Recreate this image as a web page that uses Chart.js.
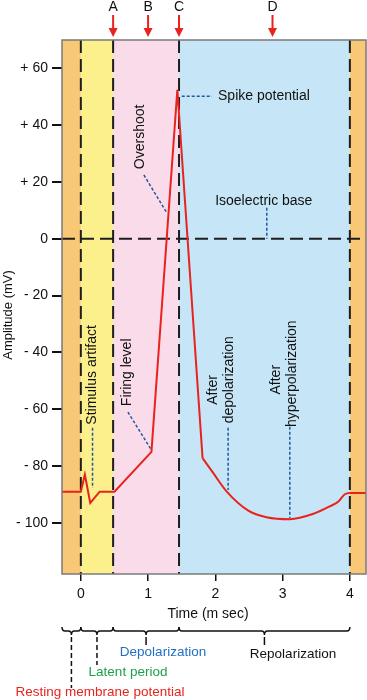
<!DOCTYPE html>
<html>
<head>
<meta charset="utf-8">
<script src="https://cdn.jsdelivr.net/npm/chart.js@4/dist/chart.umd.min.js"></script>
<style>
  html, body { margin: 0; padding: 0; background: #fff; }
  #wrap { width: 367px; height: 700px; }
</style>
</head>
<body>
<div id="wrap"><canvas id="apChart" width="367" height="700"></canvas></div>
<script>
// ---- chart values ----
const timeTicks = [0, 1, 2, 3, 4];
const ampTicks = [60, 40, 20, 0, -20, -40, -60, -80, -100];
const ampTickLabels = ['+ 60', '+ 40', '+ 20', '0', '- 20', '- 40', '- 60', '- 80', '- 100'];
const phaseEdges = [-0.28, 0, 0.48, 1.46, 4.0, 4.24];
const phaseDividers = [0, 0.48, 1.46, 4.0];
const markerLetters = ['A', 'B', 'C', 'D'];
const markerTimes = [0.48, 1.0, 1.46, 2.85];
// straight part: rest, stimulus artifact, latent, firing, spike
const spikeTime = [-0.28, 0, 0.06, 0.14, 0.28, 0.5, 1.05, 1.435, 1.81];
const spikeAmp = [-89, -89, -83, -93, -89, -89, -75, 52.5, -77.2];
// smooth part: after-potentials
const recoveryTime = [1.81, 1.97, 2.17, 2.49, 2.76, 3.11, 3.46, 3.70, 3.83, 3.92, 4.0, 4.24];
const recoveryAmp = [-77.2, -82.5, -89, -95.7, -98, -98.7, -96.8, -94.2, -92.5, -90, -89.5, -89.5];
const periodNames = ['Resting membrane potential', 'Latent period', 'Depolarization', 'Repolarization'];

// ---- styles ----
const FONT = '"Liberation Sans", Arial, sans-serif';
const phaseFills = ['#f9c877', '#fbf08c', '#fadbe9', '#c6e6f8', '#f9c877'];
const inkRed = '#e8231e';
const leaderBlue = '#24579f';
const periodColors = ['#e8231e', '#1ea04c', '#1f6fc4', '#111'];

const toPoints = (xs, ys) => xs.map((t, i) => ({x: t, y: ys[i]}));

const seg = (ctx, x1, y1, x2, y2) => {
  ctx.beginPath();
  ctx.moveTo(x1, y1);
  ctx.lineTo(x2, y2);
  ctx.stroke();
};

const vText = (ctx, str, cx, cy) => {
  ctx.save();
  ctx.translate(cx, cy);
  ctx.rotate(-Math.PI / 2);
  ctx.textAlign = 'center';
  ctx.textBaseline = 'middle';
  ctx.fillText(str, 0, 0);
  ctx.restore();
};

const brace = (ctx, x1, x2, y) => {
  const m = (x1 + x2) / 2, r = 3;
  ctx.beginPath();
  ctx.moveTo(x1, y - 4);
  ctx.quadraticCurveTo(x1, y, x1 + r, y);
  ctx.lineTo(m - r, y);
  ctx.quadraticCurveTo(m, y, m, y + 4);
  ctx.quadraticCurveTo(m, y, m + r, y);
  ctx.lineTo(x2 - r, y);
  ctx.quadraticCurveTo(x2, y, x2, y - 4);
  ctx.stroke();
};

/**
 * Phase bands, dividers, isoelectric line and leader lines (under the trace)
 */
const backdrop = {
  id: 'backdrop',
  beforeDatasetsDraw(chart) {
    const {ctx, chartArea: a, scales: {x, y}} = chart;
    const X = v => x.getPixelForValue(v);
    const Y = v => y.getPixelForValue(v);
    ctx.save();
    for (let i = 0; i < phaseEdges.length - 1; i++) {
      ctx.fillStyle = phaseFills[i];
      ctx.fillRect(X(phaseEdges[i]), a.top, X(phaseEdges[i + 1]) - X(phaseEdges[i]), a.bottom - a.top);
    }
    ctx.strokeStyle = '#1e1e1e';
    ctx.lineWidth = 2;
    ctx.setLineDash([13, 6]);
    phaseDividers.forEach(t => seg(ctx, X(t), a.top, X(t), a.bottom));
    seg(ctx, a.left, Y(0), a.right, Y(0));

    // blue dashed leaders
    ctx.strokeStyle = leaderBlue;
    ctx.lineWidth = 1.5;
    ctx.setLineDash([3, 2]);
    seg(ctx, X(1.50), Y(50.2), X(1.95), Y(50.2));      // spike potential
    seg(ctx, X(0.937), Y(22.5), X(1.274), Y(9.3));     // overshoot
    seg(ctx, X(2.765), Y(10.9), X(2.765), Y(0));       // isoelectric base
    seg(ctx, X(0.174), Y(-66.5), X(0.174), Y(-87.7));  // stimulus artifact
    seg(ctx, X(0.70), Y(-61), X(1.04), Y(-74));        // firing level
    seg(ctx, X(2.19), Y(-66.5), X(2.19), Y(-88.4));    // after depolarization
    seg(ctx, X(3.107), Y(-66.2), X(3.107), Y(-98.4));  // after hyperpolarization
    ctx.restore();
  },
  afterDatasetsDraw(chart) {
    const {ctx, chartArea: a, scales: {x, y}} = chart;
    const X = v => x.getPixelForValue(v);
    const Y = v => y.getPixelForValue(v);
    ctx.save();

    // frame
    ctx.strokeStyle = '#7a7a7a';
    ctx.lineWidth = 1.5;
    ctx.strokeRect(a.left, a.top, a.right - a.left, a.bottom - a.top);

    // in-plot labels
    ctx.fillStyle = '#111';
    ctx.font = '14px ' + FONT;
    ctx.textBaseline = 'middle';
    ctx.textAlign = 'left';
    ctx.fillText('Spike potential', X(2.04), Y(50.2));
    ctx.textAlign = 'center';
    ctx.fillText('Isoelectric base', X(2.72), Y(13.1));
    vText(ctx, 'Overshoot', X(0.878), Y(35.9));
    vText(ctx, 'Stimulus artifact', X(0.164), Y(-47.9));
    vText(ctx, 'Firing level', X(0.695), Y(-47));
    vText(ctx, 'After', X(1.966), Y(-53.2));
    vText(ctx, 'depolarization', X(2.2), Y(-49.6));
    vText(ctx, 'After', X(2.90), Y(-49.6));
    vText(ctx, 'hyperpolarization', X(3.14), Y(-47.5));

    // A-D markers
    ctx.textBaseline = 'alphabetic';
    markerTimes.forEach((t, i) => {
      const px = X(t);
      ctx.fillStyle = '#111';
      ctx.fillText(markerLetters[i], px, 11);
      ctx.strokeStyle = inkRed;
      ctx.fillStyle = inkRed;
      ctx.lineWidth = 2;
      seg(ctx, px, 15, px, 29);
      ctx.beginPath();
      ctx.moveTo(px - 4.5, 28);
      ctx.lineTo(px + 4.5, 28);
      ctx.lineTo(px, 37);
      ctx.closePath();
      ctx.fill();
    });

    // axis titles
    ctx.fillStyle = '#111';
    ctx.textBaseline = 'middle';
    ctx.fillText('Time (m sec)', 208, 614);
    ctx.font = '13px ' + FONT;
    vText(ctx, 'Amplitude (mV)', 8, 315);

    // period braces
    ctx.strokeStyle = '#111';
    ctx.lineWidth = 1.5;
    for (let i = 0; i < periodNames.length; i++) {
      brace(ctx, X(phaseEdges[i]), X(phaseEdges[i + 1]), 631);
    }
    const mids = periodNames.map((_, i) => (X(phaseEdges[i]) + X(phaseEdges[i + 1])) / 2);
    ctx.setLineDash([5, 3]);
    seg(ctx, mids[0], 637, mids[0], 688);
    seg(ctx, mids[1], 637, mids[1], 665);
    ctx.setLineDash([]);
    seg(ctx, mids[2], 637, mids[2], 645);
    seg(ctx, mids[3], 637, mids[3], 645);

    const labelSpots = [[100, 692], [128, 672], [163, 652], [293, 654]];
    ctx.font = '13.5px ' + FONT;
    periodNames.forEach((name, i) => {
      ctx.fillStyle = periodColors[i];
      ctx.fillText(name, labelSpots[i][0], labelSpots[i][1]);
    });
    ctx.restore();
  }
};

new Chart(document.getElementById('apChart'), {
  type: 'line',
  data: {
    datasets: [{
      data: toPoints(spikeTime, spikeAmp),
      borderColor: inkRed,
      borderWidth: 2,
      pointRadius: 0,
      tension: 0,
    }, {
      data: toPoints(recoveryTime, recoveryAmp),
      borderColor: inkRed,
      borderWidth: 2,
      pointRadius: 0,
      cubicInterpolationMode: 'monotone',
    }],
  },
  options: {
    responsive: false,
    animation: false,
    layout: {padding: {top: 40, right: 1, left: 0, bottom: 0}},
    plugins: {legend: {display: false}, tooltip: {enabled: false}},
    scales: {
      x: {
        type: 'linear',
        min: phaseEdges[0],
        max: phaseEdges[phaseEdges.length - 1],
        afterBuildTicks: scale => { scale.ticks = timeTicks.map(v => ({value: v})); },
        afterFit: scale => { scale.height = 126; },
        border: {display: false},
        grid: {drawOnChartArea: false, tickLength: 7, color: '#111', lineWidth: 1.5},
        ticks: {
          autoSkip: false, maxRotation: 0, padding: 5,
          color: '#111', font: {family: FONT, size: 14},
        },
      },
      y: {
        min: -118,
        max: 70,
        afterBuildTicks: scale => { scale.ticks = ampTicks.map(v => ({value: v})); },
        afterFit: scale => { scale.width = 62; },
        border: {display: false},
        grid: {drawOnChartArea: false, tickLength: 10, color: '#111', lineWidth: 2},
        ticks: {
          autoSkip: false, padding: 4,
          color: '#111', font: {family: FONT, size: 14},
          callback: v => ampTickLabels[ampTicks.indexOf(v)],
        },
      },
    },
  },
  plugins: [backdrop],
});
</script>
</body>
</html>
